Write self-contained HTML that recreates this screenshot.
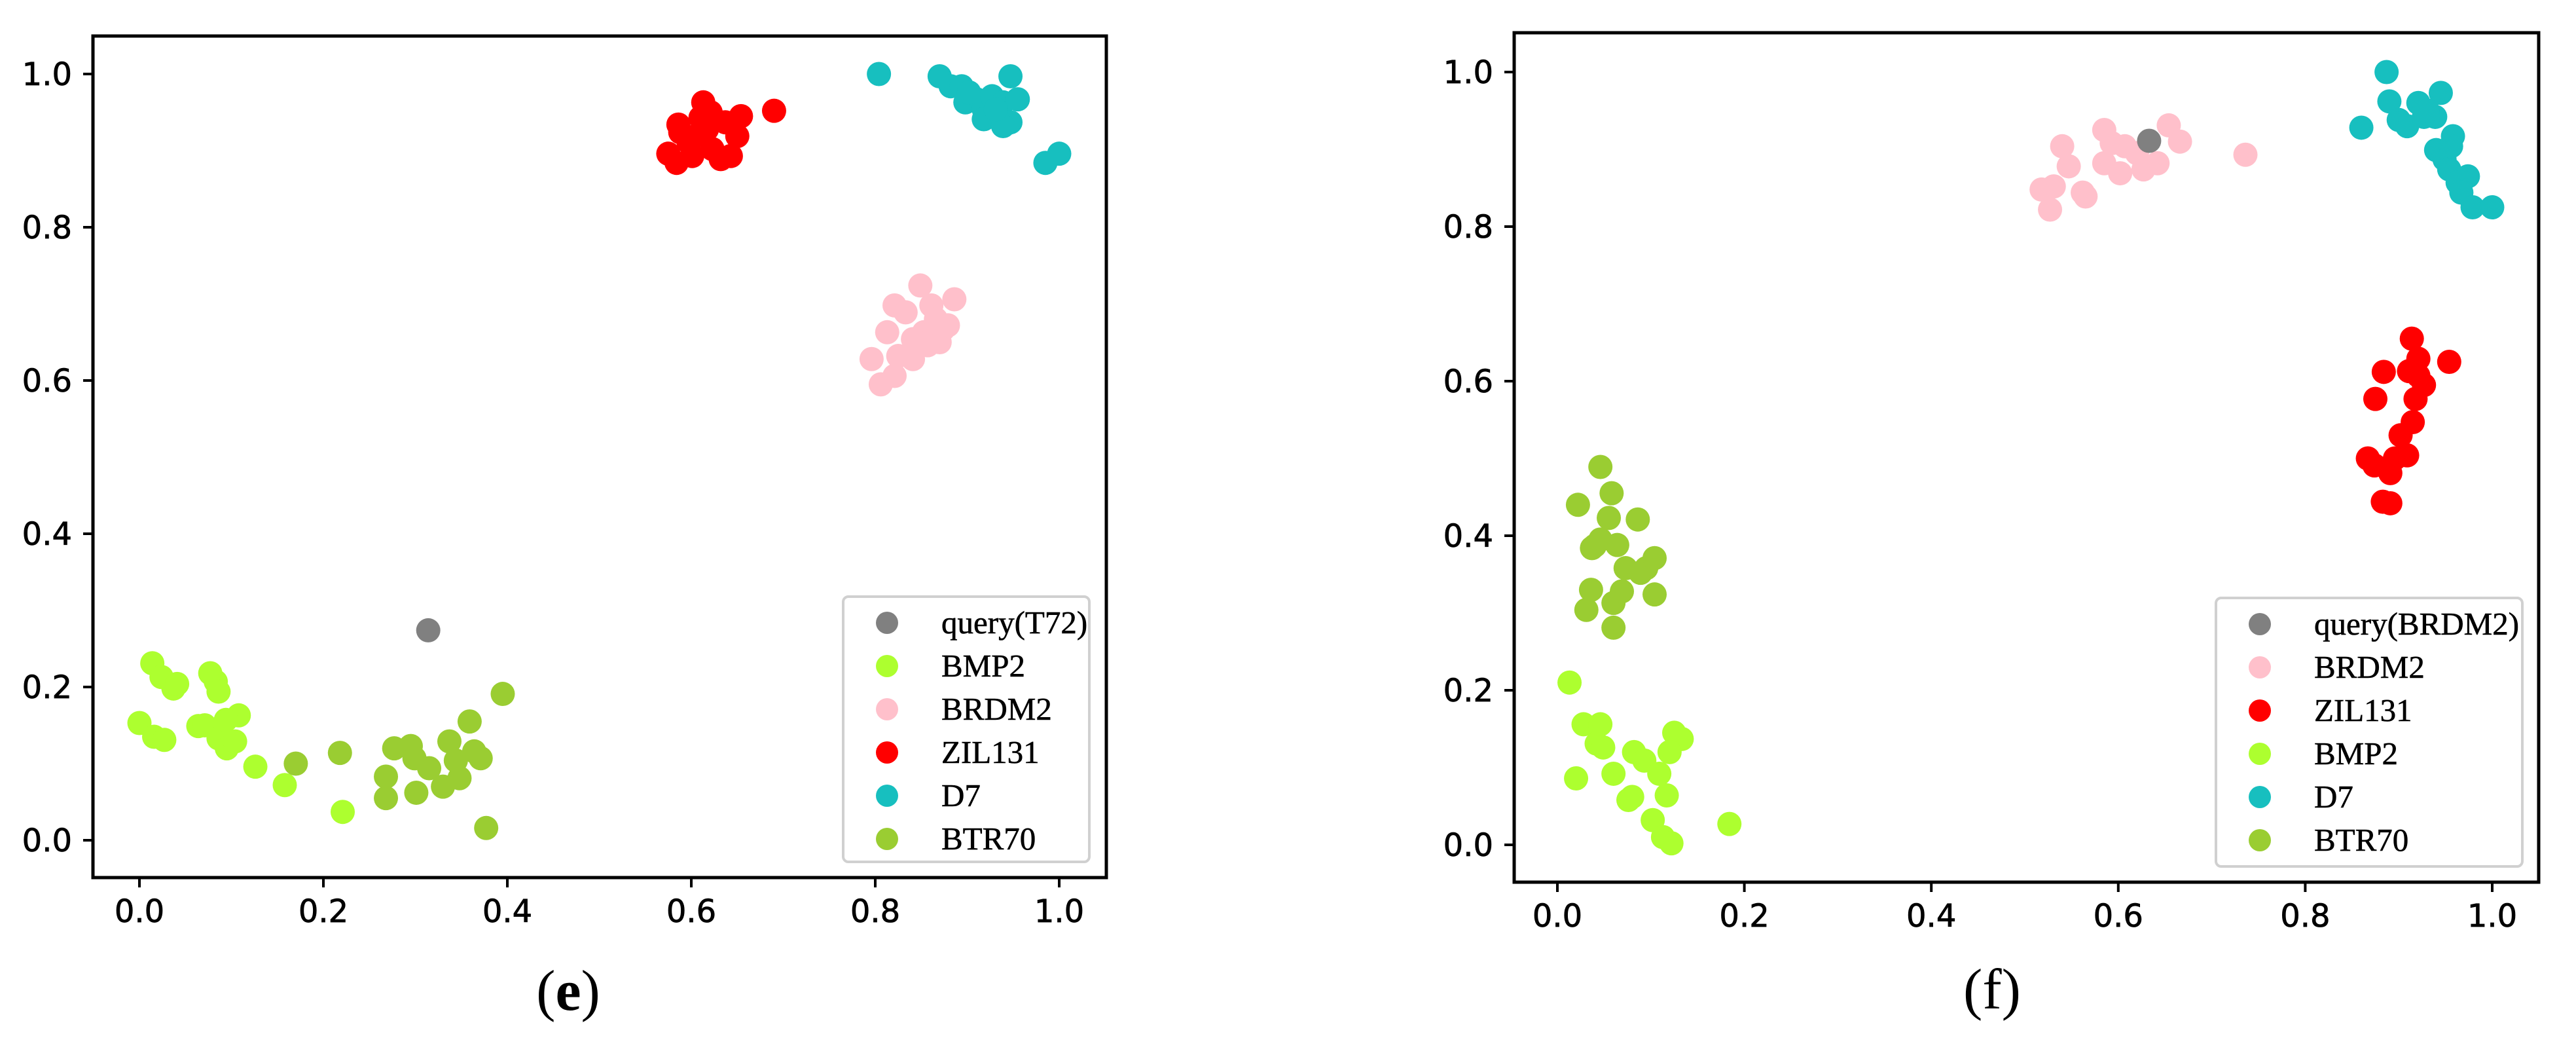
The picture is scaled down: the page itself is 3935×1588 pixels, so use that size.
<!DOCTYPE html>
<html><head><meta charset="utf-8"><style>
html,body{margin:0;padding:0;background:#fff;}
svg{display:block;}
.tick{font-family:"DejaVu Sans","Liberation Sans",sans-serif;font-size:48px;fill:#000;stroke:#000;stroke-width:0.8px;}
.leg{font-family:"Liberation Serif",serif;font-size:49px;fill:#000;stroke:#000;stroke-width:0.6px;}
.cap{font-family:"Liberation Serif",serif;font-size:88px;fill:#000;}
</style></head><body>
<svg id="fig" width="3935" height="1588" viewBox="0 0 3935 1588" xmlns="http://www.w3.org/2000/svg">
<rect width="3935" height="1588" fill="#fff"/>
</svg>
<script>
// ---- Panel (e) data ----
const eQueryX=[0.314]; const eQueryY=[0.274];
const eBMP2X=[0.0,0.014,0.024,0.037,0.041,0.016,0.027,0.064,0.077,0.083,0.086,0.071,0.086,0.095,0.104,0.108,0.094,0.126,0.158,0.221];
const eBMP2Y=[0.153,0.231,0.213,0.198,0.204,0.135,0.131,0.149,0.218,0.207,0.194,0.150,0.133,0.120,0.129,0.163,0.157,0.096,0.072,0.037];
const eBRDM2X=[0.796,0.806,0.813,0.821,0.825,0.821,0.833,0.841,0.849,0.853,0.861,0.866,0.870,0.874,0.879,0.886,0.841,0.857];
const eBRDM2Y=[0.628,0.595,0.663,0.606,0.632,0.698,0.689,0.628,0.724,0.663,0.698,0.680,0.650,0.667,0.672,0.706,0.654,0.646];
const eZILX=[0.575,0.584,0.586,0.597,0.605,0.610,0.613,0.617,0.623,0.632,0.637,0.643,0.650,0.654,0.690,0.601,0.588,0.621];
const eZILY=[0.896,0.884,0.934,0.911,0.919,0.943,0.963,0.928,0.902,0.889,0.937,0.893,0.919,0.945,0.952,0.893,0.924,0.950];
const eD7X=[0.804,0.870,0.882,0.894,0.898,0.910,0.918,0.927,0.918,0.939,0.947,0.955,0.947,0.939,0.985,1.0,0.902,0.931];
const eD7Y=[1.0,0.997,0.984,0.984,0.963,0.967,0.954,0.971,0.941,0.963,0.997,0.967,0.937,0.932,0.884,0.896,0.976,0.954];
const eBTRX=[0.170,0.218,0.268,0.268,0.277,0.295,0.299,0.301,0.315,0.330,0.337,0.344,0.348,0.359,0.364,0.371,0.377,0.395];
const eBTRY=[0.100,0.114,0.083,0.055,0.120,0.123,0.107,0.062,0.094,0.070,0.129,0.104,0.081,0.155,0.116,0.107,0.016,0.191];
// ---- Panel (f) data ----
const fQueryX=[0.633]; const fQueryY=[0.911];
const fBRDM2X=[0.518,0.527,0.531,0.540,0.547,0.562,0.565,0.585,0.585,0.593,0.602,0.620,0.627,0.642,0.654,0.666,0.736,0.607];
const fBRDM2Y=[0.848,0.822,0.852,0.904,0.878,0.844,0.839,0.925,0.882,0.908,0.869,0.895,0.874,0.882,0.931,0.910,0.893,0.904];
const fZILX=[0.867,0.874,0.875,0.884,0.883,0.891,0.891,0.896,0.902,0.909,0.915,0.918,0.921,0.927,0.914,0.921,0.954,0.911];
const fZILY=[0.500,0.491,0.577,0.612,0.444,0.442,0.481,0.500,0.530,0.504,0.547,0.577,0.629,0.595,0.655,0.607,0.625,0.613];
const fBMP2X=[0.013,0.020,0.028,0.042,0.046,0.049,0.060,0.076,0.082,0.080,0.093,0.102,0.109,0.113,0.117,0.122,0.125,0.133,0.120,0.184];
const fBMP2Y=[0.210,0.086,0.156,0.131,0.156,0.126,0.092,0.058,0.120,0.062,0.109,0.032,0.092,0.010,0.064,0.002,0.145,0.137,0.120,0.027];
const fD7X=[0.860,0.887,0.890,0.900,0.909,0.921,0.927,0.939,0.945,0.940,0.949,0.958,0.954,0.963,0.974,0.967,0.979,1.0,0.931,0.956];
const fD7Y=[0.928,1.0,0.962,0.938,0.930,0.960,0.942,0.942,0.973,0.899,0.887,0.917,0.874,0.857,0.865,0.844,0.825,0.825,0.950,0.904];
const fBTRX=[0.022,0.036,0.031,0.037,0.046,0.046,0.055,0.058,0.060,0.060,0.064,0.069,0.073,0.086,0.089,0.095,0.104,0.104,0.040];
const fBTRY=[0.440,0.330,0.304,0.384,0.489,0.395,0.423,0.455,0.313,0.281,0.388,0.328,0.358,0.421,0.352,0.358,0.371,0.324,0.387];
const tickVals=[0.0,0.2,0.4,0.6,0.8,1.0];
const tickLabels=["0.0","0.2","0.4","0.6","0.8","1.0"];

const C={q:"#808080",bmp:"#adff2f",brdm:"#ffc0cb",zil:"#ff0000",d7:"#17bfbf",btr:"#9acd32"};
const NS="http://www.w3.org/2000/svg";
const svg=document.getElementById('fig');
function mk(tag,attrs,parent){const e=document.createElementNS(NS,tag);for(const k in attrs)e.setAttribute(k,attrs[k]);(parent||svg).appendChild(e);return e;}

function panel(cfg){
  const g=mk('g',{});
  
  
  const sx=v=>cfg.x0+v*cfg.xs, sy=v=>cfg.y0-v*cfg.ys;
  cfg.series.forEach(s=>{
    const sg=mk('g',{},g);
    
    
    s.x.forEach((xv,i)=>{
      const c=mk('circle',{cx:sx(xv),cy:sy(s.y[i]),r:18.5,fill:s.c},sg);
      
      
    });
  });
  const fr=mk('rect',{x:cfg.L,y:cfg.T,width:cfg.R-cfg.L,height:cfg.B-cfg.T,fill:'none',stroke:'#000','stroke-width':5},g);
  
  
  tickVals.forEach((v,i)=>{
    const x=sx(v);
    mk('line',{x1:x,y1:cfg.B,x2:x,y2:cfg.B+15,stroke:'#000','stroke-width':4},g);
    const t=mk('text',{x:x,y:cfg.B+68,'text-anchor':'middle',class:'tick'},g);
    t.textContent=tickLabels[i];
    
    
    const y=sy(v);
    mk('line',{x1:cfg.L-15,y1:y,x2:cfg.L,y2:y,stroke:'#000','stroke-width':4},g);
    const ty=mk('text',{x:cfg.L-32,y:y+17,'text-anchor':'end',class:'tick'},g);
    ty.textContent=tickLabels[i];
    
    
  });
  const lg=mk('g',{},g);
  
  
  mk('rect',{x:cfg.lx,y:cfg.ly,width:cfg.lw,height:cfg.lh,rx:8,fill:'#fff',stroke:'#d0d0d0','stroke-width':4},lg);
  cfg.legend.forEach((it,i)=>{
    const yy=cfg.ly+40+i*66;
    const e=mk('g',{},lg);
    
    
    mk('circle',{cx:cfg.lx+67,cy:yy,r:17,fill:it.c},e);
    const t=mk('text',{x:cfg.lx+150,y:yy+16,class:'leg'},e);
    t.textContent=it.label;
  });
  const cap=mk('text',{x:cfg.capx,y:cfg.capy,'text-anchor':'middle',class:'cap'},g);
  
  
  cap.innerHTML=cfg.cap;
}

panel({name:'panel-e',x0:213,xs:1405,y0:1283,ys:1170,L:142,R:1690,T:55,B:1340,
  lx:1288,ly:911,lw:376,lh:405,capx:868,capy:1542,cap:'(<tspan font-weight="bold">e</tspan>)',
  series:[{id:'query-t72',x:eQueryX,y:eQueryY,c:C.q},{id:'bmp2',x:eBMP2X,y:eBMP2Y,c:C.bmp},{id:'brdm2',x:eBRDM2X,y:eBRDM2Y,c:C.brdm},{id:'zil131',x:eZILX,y:eZILY,c:C.zil},{id:'d7',x:eD7X,y:eD7Y,c:C.d7},{id:'btr70',x:eBTRX,y:eBTRY,c:C.btr}],
  legend:[{label:'query(T72)',c:C.q},{label:'BMP2',c:C.bmp},{label:'BRDM2',c:C.brdm},{label:'ZIL131',c:C.zil},{label:'D7',c:C.d7},{label:'BTR70',c:C.btr}]});
panel({name:'panel-f',x0:2379,xs:1428,y0:1290,ys:1180,L:2313,R:3878,T:50,B:1347,
  lx:3385,ly:913,lw:468,lh:410,capx:3043,capy:1540,cap:'(f)',
  series:[{id:'brdm2',x:fBRDM2X,y:fBRDM2Y,c:C.brdm},{id:'zil131',x:fZILX,y:fZILY,c:C.zil},{id:'bmp2',x:fBMP2X,y:fBMP2Y,c:C.bmp},{id:'d7',x:fD7X,y:fD7Y,c:C.d7},{id:'btr70',x:fBTRX,y:fBTRY,c:C.btr},{id:'query-brdm2',x:fQueryX,y:fQueryY,c:C.q}],
  legend:[{label:'query(BRDM2)',c:C.q},{label:'BRDM2',c:C.brdm},{label:'ZIL131',c:C.zil},{label:'BMP2',c:C.bmp},{label:'D7',c:C.d7},{label:'BTR70',c:C.btr}]});
</script>
</body></html>
